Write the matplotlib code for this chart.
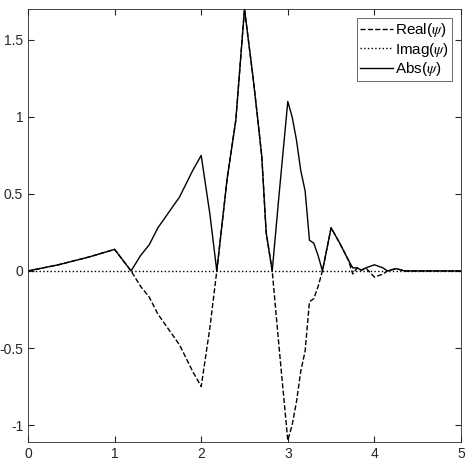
import numpy as np
import matplotlib
matplotlib.use("Agg")
import matplotlib.pyplot as plt

plt.rcParams['font.family'] = ['Liberation Sans', 'DejaVu Sans']
plt.rcParams['mathtext.fontset'] = 'stix'

x = [0, 0.35, 0.7, 1.0, 1.19, 1.3, 1.4, 1.5, 1.6, 1.75, 1.9, 2.0, 2.1, 2.18, 2.3, 2.4,
     2.5, 2.6, 2.65, 2.7, 2.75, 2.82, 2.9, 3.0, 3.05, 3.1, 3.15, 3.2, 3.25, 3.3, 3.35,
     3.4, 3.5, 3.6, 3.7, 3.75, 3.8, 3.85, 3.9, 4.0, 4.1, 4.15, 4.25, 4.35, 5.0]
real = [0, 0.04, 0.09, 0.14, 0, -0.1, -0.17, -0.28, -0.36, -0.48, -0.65, -0.75, -0.37, 0, 0.6, 0.98,
        1.70, 1.25, 1.0, 0.74, 0.25, 0, -0.5, -1.10, -1.0, -0.85, -0.65, -0.52, -0.2, -0.18, -0.1,
        0, 0.28, 0.18, 0.07, -0.02, 0.02, 0.005, 0.02, -0.04, -0.02, 0, 0.015, 0, 0]
imag = [0.0] * len(x)
absv = [abs(v) for v in real]

fig = plt.figure(figsize=(4.74, 4.74), dpi=100)
ax = fig.add_axes([28/474, 32/474, 433/474, 433/474])
ax.plot(x, real, 'k--', lw=1, label=r'Real($\psi$)')
ax.plot(x, imag, 'k:', lw=1, label=r'Imag($\psi$)')
ax.plot(x, absv, 'k-', lw=1, label=r'Abs($\psi$)')
ax.set_xlim(0, 5)
ax.set_ylim(-1.11, 1.70)
ax.set_xticks([0, 1, 2, 3, 4, 5])
ax.set_yticks([-1, -0.5, 0, 0.5, 1, 1.5])
ax.set_yticklabels(['-1', '-0.5', '0', '0.5', '1', '1.5'])
ax.tick_params(direction='in', top=True, right=True, labelsize=10, colors='#262626', length=4)
for s in ax.spines.values():
    s.set_color('#262626'); s.set_linewidth(0.6)
leg = ax.legend(loc='upper right', fancybox=False, edgecolor='#262626', fontsize=11,
                handlelength=2.2, borderpad=0.2, labelspacing=0.1, handletextpad=0.1,
                borderaxespad=0.6)
leg.get_frame().set_linewidth(0.6)
fig.savefig('out.png', dpi=100)
